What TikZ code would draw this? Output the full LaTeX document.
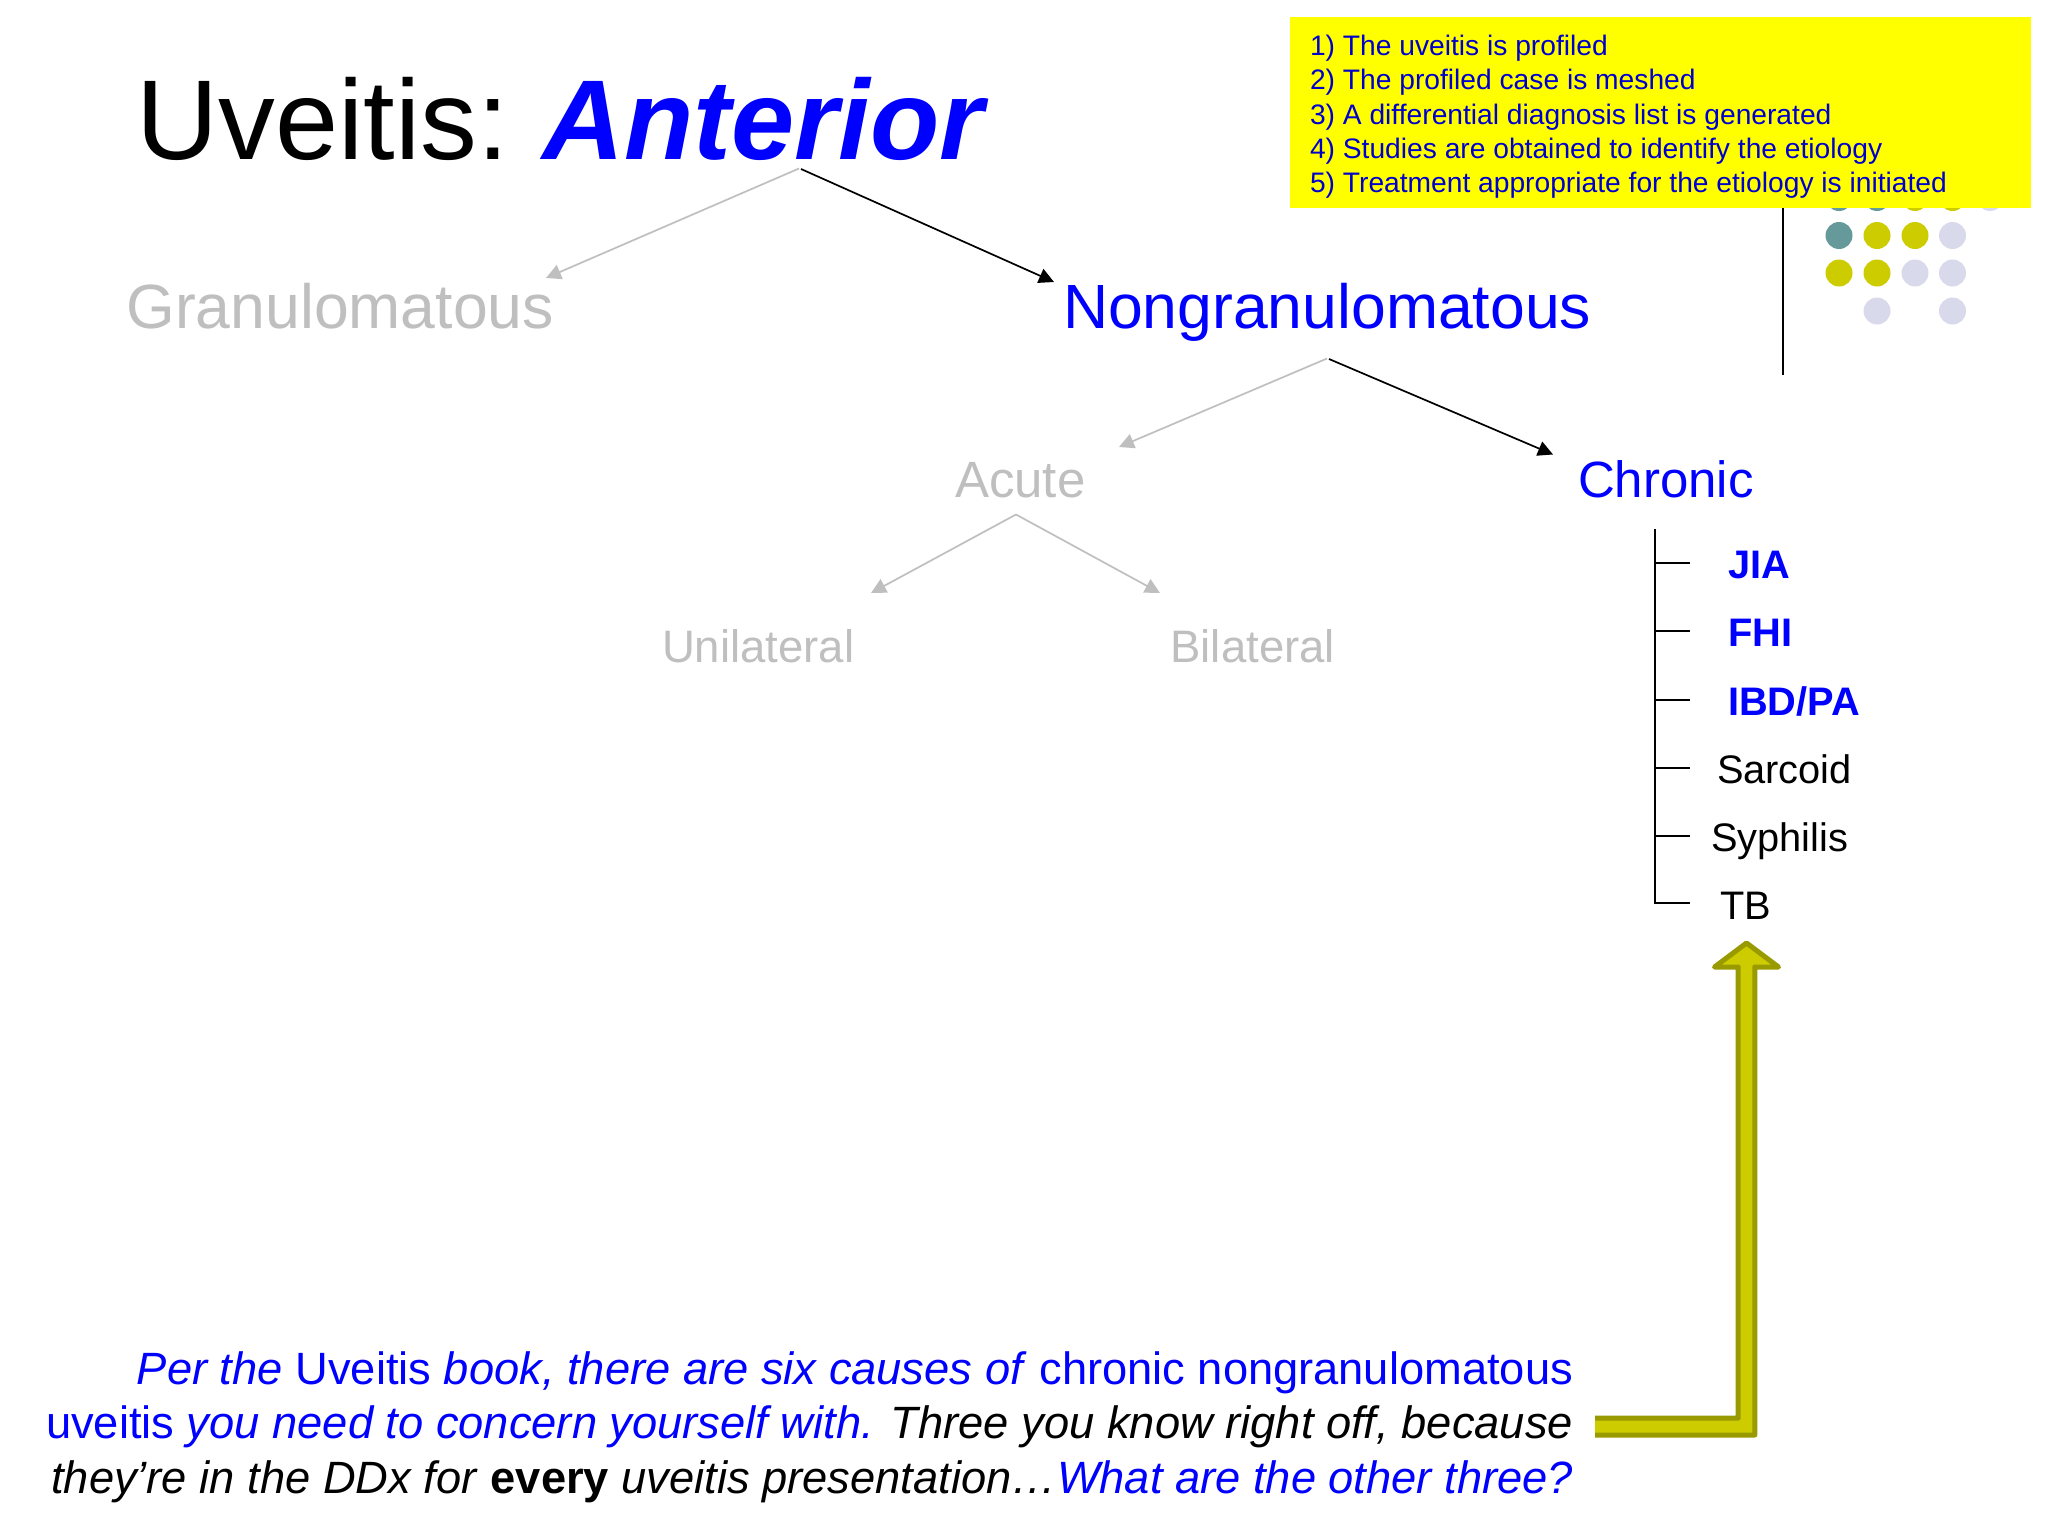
\documentclass[tikz,border=0pt]{standalone}
\usepackage{fontspec}
\setmainfont{Liberation Sans}
\usetikzlibrary{arrows.meta}
\definecolor{gblue}{HTML}{0000FF}
\definecolor{boxblue}{HTML}{0000CC}
\definecolor{boxyellow}{HTML}{FFFF00}
\definecolor{ggrey}{HTML}{BFBFBF}
\definecolor{dteal}{HTML}{669999}
\definecolor{dolive}{HTML}{CCCC00}
\definecolor{dlav}{HTML}{D9D9EC}
\definecolor{arrowedge}{HTML}{999900}
\newcommand{\fs}[1]{\fontsize{#1}{#1}\selectfont}
\tikzset{
  x=1pt,y=-1pt,
  lab/.style={inner sep=0pt,outer sep=0pt,anchor=base west},
  lvlone/.style={lab,font=\fs{62.5}},
  lvltwo/.style={lab,font=\fs{51}},
  lvlthree/.style={lab,font=\fs{45.5}},
  cause/.style={lab,font=\fs{39.8}},
  causeb/.style={lab,font=\fs{39.8}\bfseries,text=gblue},
  boxline/.style={lab,font=\fs{28.2},text=boxblue},
  para/.style={inner sep=0pt,outer sep=0pt,anchor=base east,font=\fs{45.28}\itshape,text=gblue},
  link/.style={-{Stealth[length=15pt,width=15pt,inset=0pt]},line width=1.7pt,black},
  linkoff/.style={-{Stealth[length=15pt,width=15pt,inset=0pt]},line width=1.7pt,ggrey},
  rule/.style={line width=2pt,black},
  dot/.style={circle,inner sep=0pt,minimum size=27pt,fill=#1},
}
\begin{document}
\begin{tikzpicture}
\useasboundingbox (0,0) rectangle (2048,1536);
\fill[white] (0,0) rectangle (2048,1536);
% decoration
\node[dot=dteal] (d01) at (1839,197.5) {};
\node[dot=dteal] (d02) at (1877,197.5) {};
\node[dot=dolive] (d03) at (1915,197.5) {};
\node[dot=dolive] (d04) at (1952.5,197.5) {};
\node[dot=dlav] (d05) at (1990,197.5) {};
\node[dot=dteal] (d11) at (1839,235.5) {};
\node[dot=dolive] (d12) at (1877,235.5) {};
\node[dot=dolive] (d13) at (1915,235.5) {};
\node[dot=dlav] (d14) at (1952.5,235.5) {};
\node[dot=dolive] (d21) at (1839,273) {};
\node[dot=dolive] (d22) at (1877,273) {};
\node[dot=dlav] (d23) at (1915,273) {};
\node[dot=dlav] (d24) at (1952.5,273) {};
\node[dot=dlav] (d31) at (1877,311) {};
\node[dot=dlav] (d32) at (1952.5,311) {};
\coordinate (vtop) at (1783,150);
\coordinate (vbot) at (1783,375);
\draw[rule] (vtop) -- (vbot);
% yellow box
\fill[boxyellow] (1290,17) rectangle (2031,208);
\node[boxline] (b1) at (1310,56) {1) The uveitis is profiled};
\node[boxline] (b2) at (1310,90) {2) The profiled case is meshed};
\node[boxline] (b3) at (1310,124.5) {3) A differential diagnosis list is generated};
\node[boxline] (b4) at (1310,158) {4) Studies are obtained to identify the etiology};
\node[boxline] (b5) at (1310,192) {5) Treatment appropriate for the etiology is initiated};
% title
\node[lab,font=\fs{113.5}] (title) at (136.5,160) {Uveitis: \hspace{-8pt}\textcolor{gblue}{\bfseries\itshape Anterior}};
% tree
\node[lvlone,text=ggrey] (gran) at (126.5,328.5) {Granulomatous};
\node[lvlone,text=gblue] (nongran) at (1063,328.5) {Nongranulomatous};
\node[lvltwo,text=ggrey] (acute) at (955,497) {Acute};
\node[lvltwo,text=gblue] (chronic) at (1578,497) {Chronic};
\node[lvlthree,text=ggrey] (uni) at (662,662) {Unilateral};
\node[lvlthree,text=ggrey] (bi) at (1170.5,662) {Bilateral};
\coordinate (s0g) at (799,168.5);
\coordinate (s0n) at (801,169);
\coordinate (e0g) at (546,278);
\coordinate (e0n) at (1054,282);
\coordinate (s1g) at (1327,358.5);
\coordinate (s1n) at (1329,359);
\coordinate (e1g) at (1119,447);
\coordinate (e1n) at (1553,454.5);
\coordinate (s2) at (1016,514.5);
\coordinate (e2u) at (871,593);
\coordinate (e2b) at (1160,593);
\draw[linkoff] (s0g) -- (e0g);
\draw[link] (s0n) -- (e0n);
\draw[linkoff] (s1g) -- (e1g);
\draw[link] (s1n) -- (e1n);
\draw[linkoff] (s2) -- (e2u);
\draw[linkoff] (s2) -- (e2b);
% causes list
\node[causeb] (jia) at (1728,578) {JIA};
\node[causeb] (fhi) at (1728,646) {FHI};
\node[causeb] (ibd) at (1728,715) {IBD/PA};
\node[cause] (sarc) at (1717,783) {Sarcoid};
\node[cause] (syph) at (1711,851) {Syphilis};
\node[cause] (tb) at (1720,919) {TB};
\coordinate (ltop) at (1655,529);
\coordinate (lb) at (1655,903);
\coordinate (t1) at (1655,563); \coordinate (t1e) at (1690,563);
\coordinate (t2) at (1655,631); \coordinate (t2e) at (1690,631);
\coordinate (t3) at (1655,700); \coordinate (t3e) at (1690,700);
\coordinate (t4) at (1655,768); \coordinate (t4e) at (1690,768);
\coordinate (t5) at (1655,836); \coordinate (t5e) at (1690,836);
\coordinate (t6e) at (1690,903);
\draw[rule] (ltop) -- (lb) -- (t6e);
\draw[rule] (t1) -- (t1e);
\draw[rule] (t2) -- (t2e);
\draw[rule] (t3) -- (t3e);
\draw[rule] (t4) -- (t4e);
\draw[rule] (t5) -- (t5e);
% paragraph
\node[para] (p1) at (1573,1384) {Per the \textup{Uveitis} book, there are six causes of \textup{chronic nongranulomatous}};
\node[para] (p2) at (1573,1438) {\textup{uveitis} you need to concern yourself with. \textcolor{black}{Three you know right off, because}};
\node[para] (p3) at (1573,1493) {\textcolor{black}{they’re in the DDx for \textup{\bfseries every} uveitis presentation…}What are the other three?};
% big arrow
\filldraw[fill=dolive,draw=arrowedge,line width=5pt,line join=round]
  (1595,1418) -- (1738.2,1418) -- (1738.2,967) -- (1714.5,967) -- (1746.5,943) -- (1778.5,967) -- (1754.8,967) -- (1754.8,1435) -- (1595,1435);
\end{tikzpicture}
\end{document}
